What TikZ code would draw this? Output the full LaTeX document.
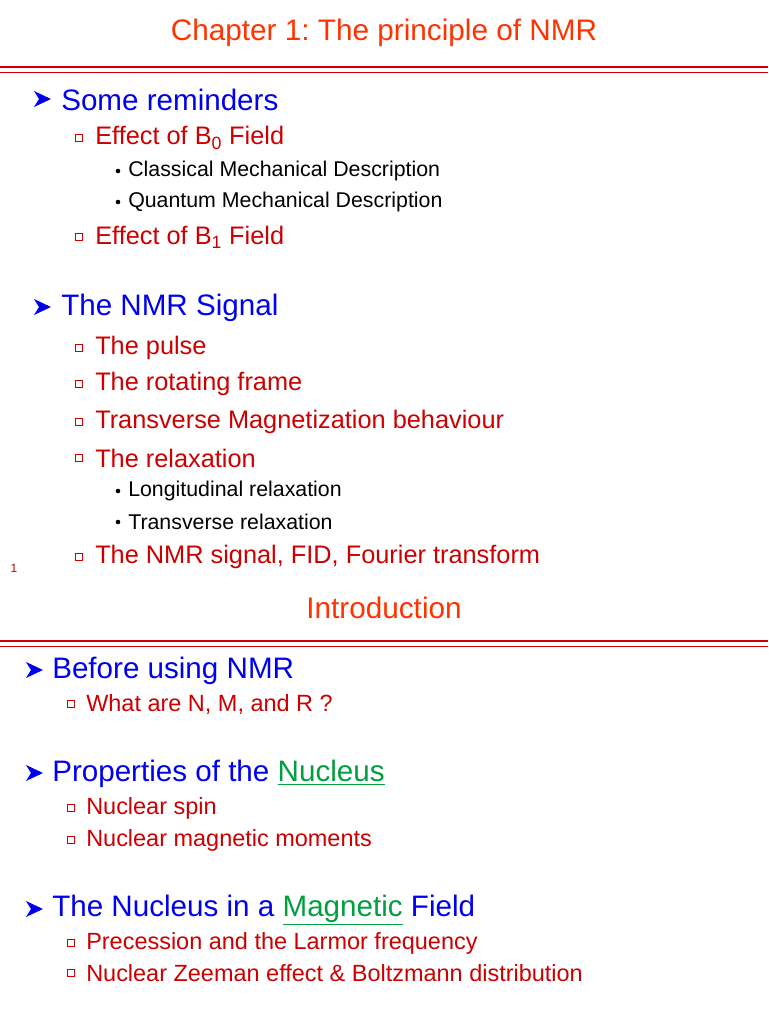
\documentclass[tikz,border=0pt]{standalone}
\usepackage{fontspec}
\setmainfont{Liberation Sans}
\frenchspacing
\definecolor{ttl}{HTML}{FF3300}
\definecolor{itm}{HTML}{CC0000}
\definecolor{hd}{HTML}{0000EE}
\definecolor{gr}{HTML}{00A040}
\begin{document}
\begin{tikzpicture}[x=0.75pt,y=-0.75pt,
  title/.style={text=ttl,font=\fontsize{22.3}{26}\selectfont,inner sep=0pt},
  head/.style={text=hd,font=\fontsize{22.2}{26}\selectfont,anchor=west,inner sep=0pt},
  item/.style={text=itm,font=\fontsize{19}{23}\selectfont,anchor=west,inner sep=0pt},
  itemb/.style={text=itm,font=\fontsize{17.6}{21}\selectfont,anchor=west,inner sep=0pt},
  sub/.style={text=black,font=\fontsize{16}{19}\selectfont,anchor=west,inner sep=0pt}]
\useasboundingbox (0,0) rectangle (768,1024);
\fill[white] (0,0) rectangle (768,1024);
\newcommand{\harrow}[2]{\fill[hd] (#1-8,#2-8) -- (#1+9,#2) -- (#1-8,#2+8) -- (#1-3,#2) -- cycle;}
\newcommand{\sqb}[2]{\draw[itm,line width=0.8pt] (#1-3.5,#2-3.5) rectangle (#1+3.5,#2+3.5);}
\newcommand{\dotb}[2]{\fill (#1,#2) circle (2.3);}
% titles and rules
\node[title] (t1) at (384,33) {Chapter 1: The principle of NMR};
\draw[itm,line width=2.2pt] (0,67) -- (768,67);
\draw[itm,line width=0.8pt] (0,72.5) -- (768,72.5);
\node[title] (t2) at (384,608) {Introduction};
\draw[itm,line width=2.2pt] (0,641) -- (768,641);
\draw[itm,line width=0.8pt] (0,646.5) -- (768,646.5);
% part 1
\harrow{42}{99}\node[head] (h1) at (61,100) {Some reminders};
\sqb{79}{138}\node[item] (i1) at (95,138) {Effect of B\textsubscript{0} Field};
\dotb{118}{171}\node[sub] (s1) at (128,171) {Classical Mechanical Description};
\dotb{118}{202}\node[sub] (s2) at (128,202) {Quantum Mechanical Description};
\sqb{79}{237}\node[item] (i2) at (95,237) {Effect of B\textsubscript{1} Field};
\harrow{42}{307}\node[head] (h2) at (61,308) {The NMR Signal};
\sqb{79}{348}\node[item] (i3) at (95,348) {The pulse};
\sqb{79}{384}\node[item] (i4) at (95,384) {The rotating frame};
\sqb{79}{422}\node[item] (i5) at (95,422) {Transverse Magnetization behaviour};
\sqb{79}{458}\node[item] (i6) at (95,458) {The relaxation};
\dotb{118}{491}\node[sub] (s3) at (128,491) {Longitudinal relaxation};
\dotb{118}{522}\node[sub] (s4) at (128,522) {Transverse relaxation};
\sqb{79}{557}\node[item] (i7) at (95,557) {The NMR signal, FID, Fourier transform};
\node[text=itm,font=\fontsize{9}{10}\selectfont,inner sep=0pt] (pg) at (14,568) {1};
% part 2
\harrow{34}{670}\node[head] (h3) at (52,671) {Before using NMR};
\sqb{71}{704}\node[itemb] (j1) at (86,704) {What are N, M, and R ?};
\harrow{34}{773}\node[head] (h4) at (52,774) {Properties of the \textcolor{gr}{\underline{Nucleus}}};
\sqb{71}{808}\node[itemb] (j2) at (86,808) {Nuclear spin};
\sqb{71}{840}\node[itemb] (j3) at (86,840) {Nuclear magnetic moments};
\harrow{34}{909}\node[head] (h5) at (52,910) {The Nucleus in a \textcolor{gr}{\underline{Magnetic}} Field};
\sqb{71}{943}\node[itemb] (j4) at (86,943) {Precession and the Larmor frequency};
\sqb{71}{973}\node[itemb] (j5) at (86,973) {Nuclear Zeeman effect \& Boltzmann distribution};
\end{tikzpicture}
\end{document}
